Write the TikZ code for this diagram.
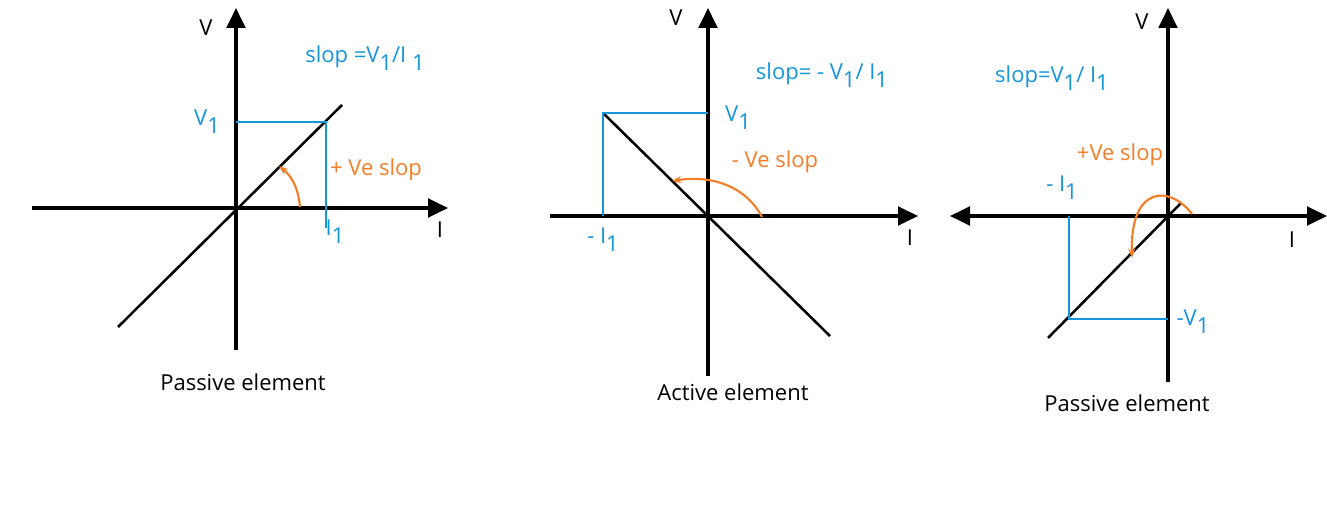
\documentclass[tikz,border=0pt]{standalone}
\usepackage{fontspec}
\setmainfont{Open Sans}
\usetikzlibrary{arrows.meta}
\definecolor{bl}{RGB}{20,150,220}
\definecolor{org}{RGB}{245,125,40}
\newcommand{\sub}[1]{\raisebox{-6pt}{#1}}
\tikzset{
 axis/.style={line width=2.3pt,-{Triangle[width=14pt,length=15pt]}},
 diag/.style={line width=1.9pt},
 blue/.style={draw=bl,line width=1.8pt},
 lbl/.style={font=\fontsize{16.5}{19}\selectfont},
 blbl/.style={lbl,text=bl},
 olbl/.style={lbl,text=org},
 oarr/.style={draw=org,line width=1.6pt,-{Stealth[length=7pt]}},
}
\begin{document}
\begin{tikzpicture}[x=0.75pt,y=-0.75pt]
\useasboundingbox (0,0) rectangle (1327,523);
% Panel 1
\coordinate (a1l) at (32,208); \coordinate (a1r) at (448,208);
\coordinate (a1b) at (236,350); \coordinate (a1t) at (236,8);
\draw[axis] (a1l) -- (a1r);
\draw[axis] (a1b) -- (a1t);
\coordinate (d1a) at (118,327); \coordinate (d1b) at (342,105);
\draw[diag] (d1a) -- (d1b);
\coordinate (p1) at (326,122);
\draw[blue] (236,122) -- (p1) -- (326,228);
\node[lbl] (v1) at (206,28) {V};
\node[lbl] (i1) at (440,230) {I};
\node[blbl] (v11) at (207,122) {V\sub{1}};
\node[blbl] (i11) at (335,232) {I\sub{1}};
\node[blbl] (s1) at (365,58) {slop =V\sub{1}/I \sub{1}};
\node[olbl] (o1) at (376,170) {+ Ve slop};
\draw[oarr] (300,207) .. controls (298,185) and (290,175) .. (279,166);
\node[lbl] (n1) at (243,382) {Passive element};
% Panel 2
\draw[axis] (550,216) -- (918,216);
\draw[axis] (708,376) -- (708,8);
\draw[diag] (603,113) -- (830,336);
\draw[blue] (708,113) -- (603,113) -- (603,216);
\node[lbl] (v2) at (676,18) {V};
\node[lbl] (i2) at (910,238) {I};
\node[blbl] (v21) at (738,118) {V\sub{1}};
\node[blbl] (i21) at (603,240) {- I\sub{1}};
\node[blbl] (s2) at (822,75) {slop= - V\sub{1}/ I\sub{1}};
\node[olbl] (o2) at (775,162) {- Ve slop};
\draw[oarr] (762,217) .. controls (745,185) and (710,175) .. (672,181);
\node[lbl] (n2) at (733,392) {Active element};
% Panel 3
\draw[axis,{Triangle[width=14pt,length=15pt]}-{Triangle[width=14pt,length=15pt]}] (950,216) -- (1327,216);
\draw[axis] (1168,382) -- (1168,8);
\draw[diag] (1048,338) -- (1181,203);
\draw[blue] (1069,216) -- (1069,319) -- (1168,319);
\node[lbl] (v3) at (1142,22) {V};
\node[lbl] (i3) at (1292,240) {I};
\node[blbl] (i31) at (1062,188) {- I\sub{1}};
\node[blbl] (v31) at (1193,322) {-V\sub{1}};
\node[blbl] (s3) at (1052,78) {slop=V\sub{1}/ I\sub{1}};
\node[olbl] (o3) at (1120,155) {+Ve slop};
\draw[oarr] (1192,214) .. controls (1170,185) and (1130,185) .. (1132,258);
\node[lbl] (n3) at (1127,403) {Passive element};
\end{tikzpicture}
\end{document}
